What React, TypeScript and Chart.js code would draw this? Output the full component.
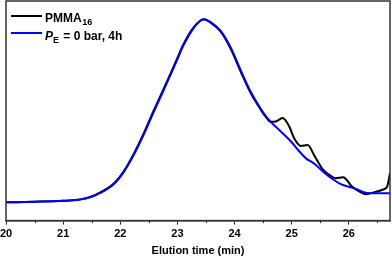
import React, { useEffect, useRef } from "react";
import { Chart, registerables } from "chart.js";

Chart.register(...registerables);

const blueX = [20.0, 20.5, 21.0, 21.3, 21.5, 21.65, 21.88, 22.06, 22.23, 22.41, 22.58, 22.82, 22.99, 23.11, 23.29, 23.46, 23.58, 23.75, 23.93, 24.11, 24.28, 24.46, 24.6, 24.8, 24.98, 25.1, 25.25, 25.39, 25.54, 25.7, 25.86, 26.0, 26.15, 26.26, 26.4, 26.72];
const blueY = [0.0, 0.003, 0.008, 0.015, 0.03, 0.051, 0.097, 0.165, 0.255, 0.37, 0.49, 0.655, 0.775, 0.86, 0.955, 1.0, 0.985, 0.94, 0.848, 0.72, 0.605, 0.51, 0.45, 0.39, 0.335, 0.29, 0.24, 0.212, 0.17, 0.13, 0.099, 0.085, 0.07, 0.055, 0.05, 0.05];

const blackX = [20.0, 20.5, 21.0, 21.3, 21.5, 21.65, 21.88, 22.06, 22.23, 22.41, 22.58, 22.82, 22.99, 23.11, 23.29, 23.46, 23.58, 23.75, 23.93, 24.11, 24.28, 24.46, 24.55, 24.63, 24.72, 24.84, 24.95, 25.05, 25.16, 25.28, 25.4, 25.54, 25.66, 25.77, 25.9, 26.05, 26.18, 26.3, 26.45, 26.6, 26.67, 26.72];
const blackY = [0.0, 0.003, 0.008, 0.016, 0.032, 0.054, 0.101, 0.17, 0.262, 0.377, 0.498, 0.662, 0.782, 0.866, 0.958, 1.0, 0.982, 0.935, 0.84, 0.712, 0.598, 0.505, 0.465, 0.44, 0.442, 0.46, 0.418, 0.346, 0.308, 0.313, 0.253, 0.181, 0.15, 0.132, 0.137, 0.088, 0.06, 0.044, 0.055, 0.07, 0.085, 0.16];

const xMin = 20;
const xMax = 26.72;
const minorTicks = [20.5, 21.5, 22.5, 23.5, 24.5, 25.5, 26.5];
const seriesNames = ["PMMA", "P"];
const xTitle = "Elution time (min)";

const FONT = "'Liberation Sans', Arial, sans-serif";

const decorPlugin = {
  id: "decor",
  afterDraw(chart: any) {
    const { ctx, chartArea } = chart;
    const xs = chart.scales.x;
    ctx.save();
    ctx.strokeStyle = "#333";
    ctx.lineWidth = 1.5;
    ctx.strokeRect(chartArea.left, chartArea.top, chartArea.right - chartArea.left, chartArea.bottom - chartArea.top);
    ctx.lineWidth = 1;
    ctx.strokeStyle = "#222";
    for (const v of minorTicks) {
      const px = Math.round(xs.getPixelForValue(v)) + 0.5;
      ctx.beginPath();
      ctx.moveTo(px, chartArea.bottom);
      ctx.lineTo(px, chartArea.bottom + 2.5);
      ctx.stroke();
    }
    ctx.lineWidth = 2;
    ctx.strokeStyle = "#000";
    ctx.beginPath();
    ctx.moveTo(11, 16);
    ctx.lineTo(42, 16);
    ctx.stroke();
    ctx.strokeStyle = "#0000ff";
    ctx.beginPath();
    ctx.moveTo(11, 33);
    ctx.lineTo(42, 33);
    ctx.stroke();

    ctx.fillStyle = "#000";
    ctx.textBaseline = "alphabetic";
    ctx.textAlign = "left";
    ctx.font = `bold 12px ${FONT}`;
    ctx.fillText(seriesNames[0], 45, 22);
    let w = ctx.measureText(seriesNames[0]).width;
    ctx.font = `bold 9px ${FONT}`;
    ctx.fillText("16", 45 + w + 0.5, 25);

    ctx.font = `italic bold 12px ${FONT}`;
    ctx.fillText(seriesNames[1], 45, 40);
    w = ctx.measureText(seriesNames[1]).width;
    ctx.font = `bold 9px ${FONT}`;
    ctx.fillText("E", 45 + w, 43);
    const w2 = ctx.measureText("E").width;
    ctx.font = `bold 12px ${FONT}`;
    ctx.fillText(" = 0 bar, 4h", 45 + w + w2 + 1, 40);
    ctx.restore();
  },
};

export default function App() {
  const ref = useRef<HTMLCanvasElement>(null);
  useEffect(() => {
    if (!ref.current) return;
    const chart = new Chart(ref.current, {
      type: "line",
      data: {
        datasets: [
          {
            label: "PE = 0 bar, 4h",
            data: blueX.map((x, i) => ({ x, y: blueY[i] })),
            borderColor: "#0000ff",
            borderWidth: 2,
            pointRadius: 0,
            cubicInterpolationMode: "monotone",
            order: 0,
          },
          {
            label: "PMMA16",
            data: blackX.map((x, i) => ({ x, y: blackY[i] })),
            borderColor: "#000000",
            borderWidth: 2,
            pointRadius: 0,
            cubicInterpolationMode: "monotone",
            order: 1,
          },
        ],
      },
      options: {
        animation: false,
        responsive: false,
        devicePixelRatio: 1,
        layout: { padding: { left: 0, right: 2, top: 1, bottom: 0 } },
        plugins: { legend: { display: false }, tooltip: { enabled: false } },
        scales: {
          x: {
            type: "linear",
            min: xMin,
            max: xMax,
            afterFit: (scale: any) => {
              scale.paddingLeft = 6;
            },
            ticks: {
              stepSize: 1,
              includeBounds: false,
              color: "#000",
              font: { family: FONT, size: 11, weight: "bold" },
              padding: 3,
              maxRotation: 0,
              callback: (v: any) => String(v),
            },
            grid: { drawOnChartArea: false, tickLength: 4, color: "#222", tickWidth: 1 },
            border: { display: true, color: "#333", width: 1.5 },
            title: {
              display: true,
              text: xTitle,
              color: "#000",
              font: { family: FONT, size: 11, weight: "bold" },
              padding: { top: 1, bottom: 0 },
            },
          },
          y: { display: false, min: -0.1, max: 1.1 },
        },
      },
      plugins: [decorPlugin],
    });
    return () => chart.destroy();
  }, []);
  return (
    <div style={{ position: "absolute", left: 0, top: 0, width: 392, height: 258, background: "#fff" }}>
      <canvas ref={ref} width={392} height={258} />
    </div>
  );
}
